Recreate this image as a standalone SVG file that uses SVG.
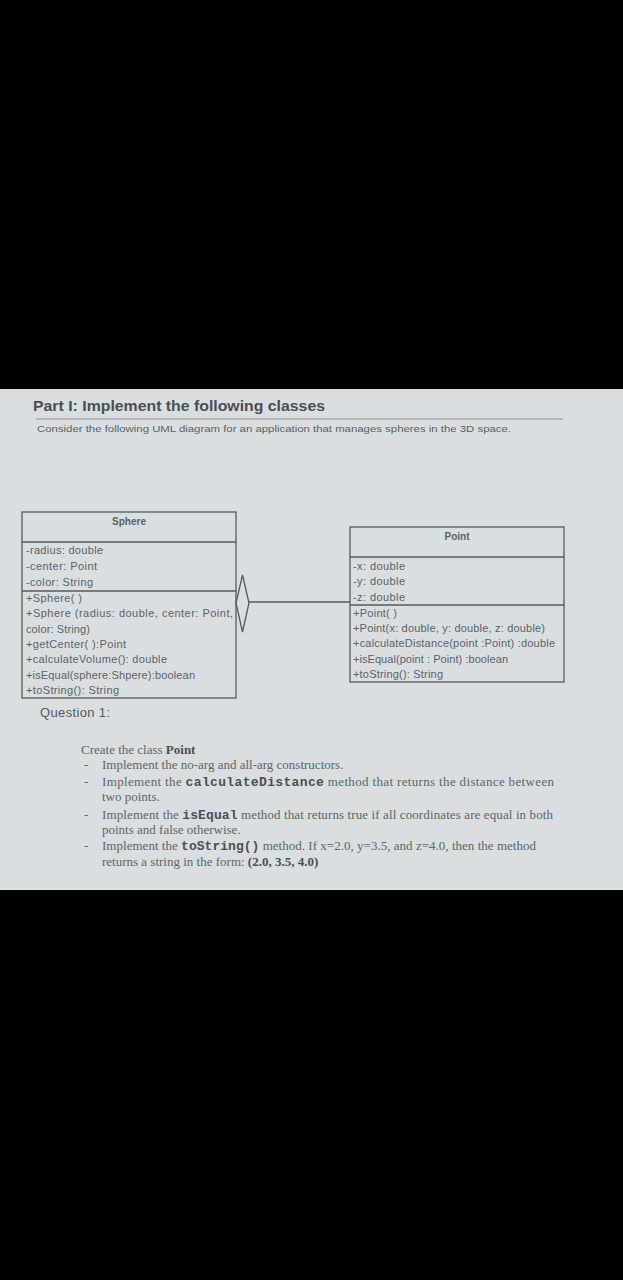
<svg xmlns="http://www.w3.org/2000/svg" width="623" height="1280" viewBox="0 0 623 1280">
<style>
.box{fill:none;stroke:#555a5e;stroke-width:1.3}
.sep{stroke:#555a5e;stroke-width:1.3}
.t{font-family:"Liberation Sans",Arial,sans-serif;font-size:11px;fill:#59616a}
.nm{font-family:"Liberation Sans",Arial,sans-serif;font-size:10px;font-weight:bold;fill:#59616a;text-anchor:middle}
.s{font-family:"Liberation Serif","Times New Roman",serif;font-size:13px;fill:#5f6468}
.m{font-family:"Liberation Mono","Courier New",monospace;font-weight:bold;fill:#4a4f53}
.b{font-weight:bold;fill:#4a4f53}
</style>
<rect x="0" y="0" width="623" height="1280" fill="#000"/>
<rect x="0" y="389" width="623" height="501" fill="#d9dfe0"/>
<text x="33" y="411" font-family="Liberation Sans,Arial,sans-serif" font-size="15" font-weight="bold" fill="#4a4e52" textLength="292" lengthAdjust="spacingAndGlyphs">Part I: Implement the following classes</text>
<line x1="36" y1="419" x2="563" y2="419" stroke="#8d9294" stroke-width="1.2"/>
<text x="37" y="432" font-family="Liberation Sans,Arial,sans-serif" font-size="9.5" fill="#5a6066" textLength="474" lengthAdjust="spacingAndGlyphs">Consider the following UML diagram for an application that manages spheres in the 3D space.</text>

<g id="sphere">
<rect class="box" x="22" y="512" width="214" height="186"/>
<line class="sep" x1="22" y1="542" x2="236" y2="542"/>
<line class="sep" x1="22" y1="591" x2="236" y2="591"/>
<text class="nm" x="129" y="525">Sphere</text>
<text class="t" x="26" y="554" textLength="77">-radius: double</text>
<text class="t" x="26" y="570" textLength="71">-center: Point</text>
<text class="t" x="26" y="586" textLength="67">-color: String</text>
<text class="t" x="26" y="602" textLength="56">+Sphere( )</text>
<text class="t" x="26" y="617" textLength="207">+Sphere (radius: double, center: Point,</text>
<text class="t" x="26" y="633" textLength="64">color: String)</text>
<text class="t" x="26" y="648" textLength="100">+getCenter( ):Point</text>
<text class="t" x="26" y="663" textLength="141">+calculateVolume(): double</text>
<text class="t" x="26" y="679" textLength="169">+isEqual(sphere:Shpere):boolean</text>
<text class="t" x="26" y="694" textLength="93">+toString(): String</text>
</g>

<g id="point">
<rect class="box" x="350" y="527" width="214" height="155"/>
<line class="sep" x1="350" y1="557" x2="564" y2="557"/>
<line class="sep" x1="350" y1="605" x2="564" y2="605"/>
<text class="nm" x="457" y="540">Point</text>
<text class="t" x="353" y="570" textLength="52">-x: double</text>
<text class="t" x="353" y="585" textLength="52">-y: double</text>
<text class="t" x="353" y="601" textLength="52">-z: double</text>
<text class="t" x="353" y="617" textLength="44">+Point( )</text>
<text class="t" x="353" y="632" textLength="192">+Point(x: double, y: double, z: double)</text>
<text class="t" x="353" y="647" textLength="202">+calculateDistance(point :Point) :double</text>
<text class="t" x="353" y="663" textLength="155">+isEqual(point : Point) :boolean</text>
<text class="t" x="353" y="678" textLength="90">+toString(): String</text>
</g>

<g id="connectors">
<polygon points="236,603 242.5,575 249,603 242.5,632" fill="#d9dfe0" stroke="#555a5e" stroke-width="1.3"/>
<line x1="249" y1="602" x2="350" y2="602" stroke="#555a5e" stroke-width="1.3"/>
</g>

<text x="40" y="717" font-family="Liberation Sans,Arial,sans-serif" font-size="13" fill="#555a5e" textLength="70">Question 1:</text>

<g id="question">
<text class="s" x="81" y="754">Create the class <tspan class="b">Point</tspan></text>
<text class="s" x="84" y="769">-</text>
<text class="s" x="102" y="769">Implement the no-arg and all-arg constructors.</text>
<text class="s" x="84" y="786">-</text>
<text class="s" x="102" y="786" textLength="452">Implement the <tspan class="m">calculateDistance</tspan> method that returns the distance between</text>
<text class="s" x="102" y="801">two points.</text>
<text class="s" x="84" y="819">-</text>
<text class="s" x="102" y="819" textLength="451">Implement the <tspan class="m">isEqual</tspan> method that returns true if all coordinates are equal in both</text>
<text class="s" x="102" y="834">points and false otherwise.</text>
<text class="s" x="84" y="850">-</text>
<text class="s" x="102" y="850" textLength="434">Implement the <tspan class="m">toString()</tspan> method. If x=2.0, y=3.5, and z=4.0, then the method</text>
<text class="s" x="102" y="866">returns a string in the form: <tspan class="b">(2.0, 3.5, 4.0)</tspan></text>
</g>
</svg>
